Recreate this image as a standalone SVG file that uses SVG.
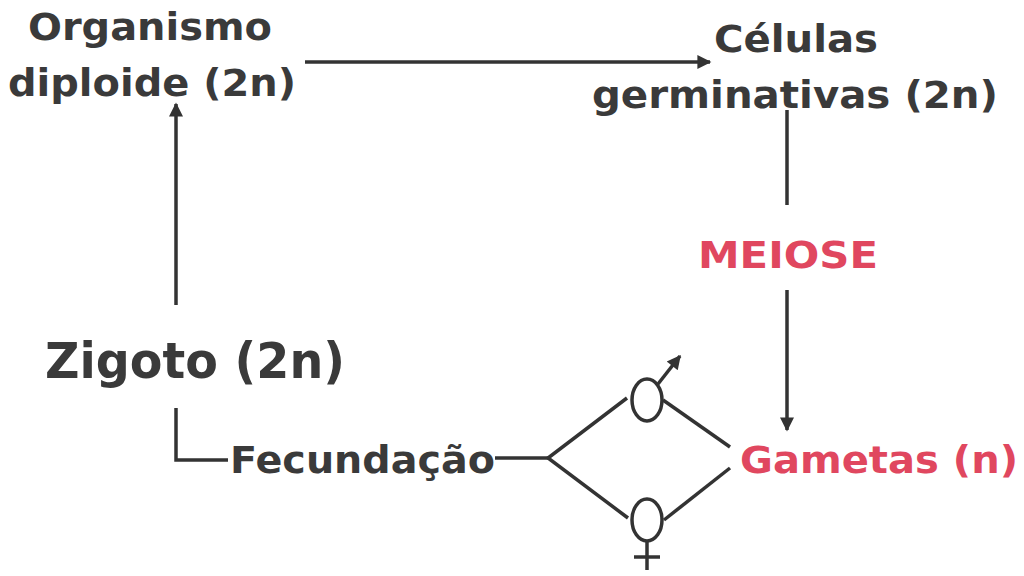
<svg xmlns="http://www.w3.org/2000/svg" width="1024" height="576" viewBox="0 0 1024 576">
<style>
text{font-family:"DejaVu Sans","Liberation Sans",Arial,sans-serif;font-weight:bold;fill:#3a3a3a}
.r{fill:#e0475f}
.l{stroke:#333;stroke-width:3.5;fill:none}
</style>
<defs>
<marker id="b" viewBox="0 0 10 10" refX="9" refY="5" markerWidth="20" markerHeight="14" orient="auto" markerUnits="userSpaceOnUse"><path d="M0,0L10,5L0,10z" fill="#333"/></marker></defs>
<rect width="1024" height="576" fill="#fff"/>
<g id="organismo"><text x="28" y="40" font-size="37" textLength="244" lengthAdjust="spacingAndGlyphs">Organismo</text><text x="8" y="96" font-size="37" textLength="288" lengthAdjust="spacingAndGlyphs">diploide (2n)</text></g>
<g id="celulas"><text x="714" y="52" font-size="37" textLength="164" lengthAdjust="spacingAndGlyphs">Células</text><text x="592" y="108" font-size="37" textLength="406" lengthAdjust="spacingAndGlyphs">germinativas (2n)</text></g>
<g id="meiose"><text class="r" x="698" y="268" font-size="37" textLength="180" lengthAdjust="spacingAndGlyphs">MEIOSE</text></g>
<g id="zigoto"><text x="45" y="378" font-size="50" textLength="300" lengthAdjust="spacingAndGlyphs">Zigoto (2n)</text></g>
<g id="fecundacao"><text x="230" y="473" font-size="37" textLength="265" lengthAdjust="spacingAndGlyphs">Fecundação</text></g>
<g id="gametas"><text class="r" x="740" y="473" font-size="37" textLength="278" lengthAdjust="spacingAndGlyphs">Gametas (n)</text></g>
<g id="symbols" class="l">
<ellipse cx="647" cy="400" rx="15" ry="21"/>
<line x1="658" y1="384" x2="680" y2="356" marker-end="url(#b)"/>
<ellipse cx="647" cy="520" rx="15" ry="21"/>
<line x1="647" y1="541" x2="647" y2="570"/><line x1="634" y1="557" x2="660" y2="557"/>
</g>
<g id="connectors" class="l">
<line x1="305" y1="62" x2="710" y2="62" marker-end="url(#b)"/>
<line x1="176" y1="305" x2="176" y2="104" marker-end="url(#b)"/>
<polyline points="176,408 176,460 228,460"/>
<line x1="787" y1="110" x2="787" y2="205"/>
<line x1="787" y1="290" x2="787" y2="430" marker-end="url(#b)"/>
<line x1="495" y1="458" x2="548" y2="458"/>
<polyline points="627,398 548,458 628,518"/>
<line x1="663" y1="400" x2="730" y2="447"/>
<line x1="664" y1="520" x2="730" y2="468"/>
</g>
</svg>
